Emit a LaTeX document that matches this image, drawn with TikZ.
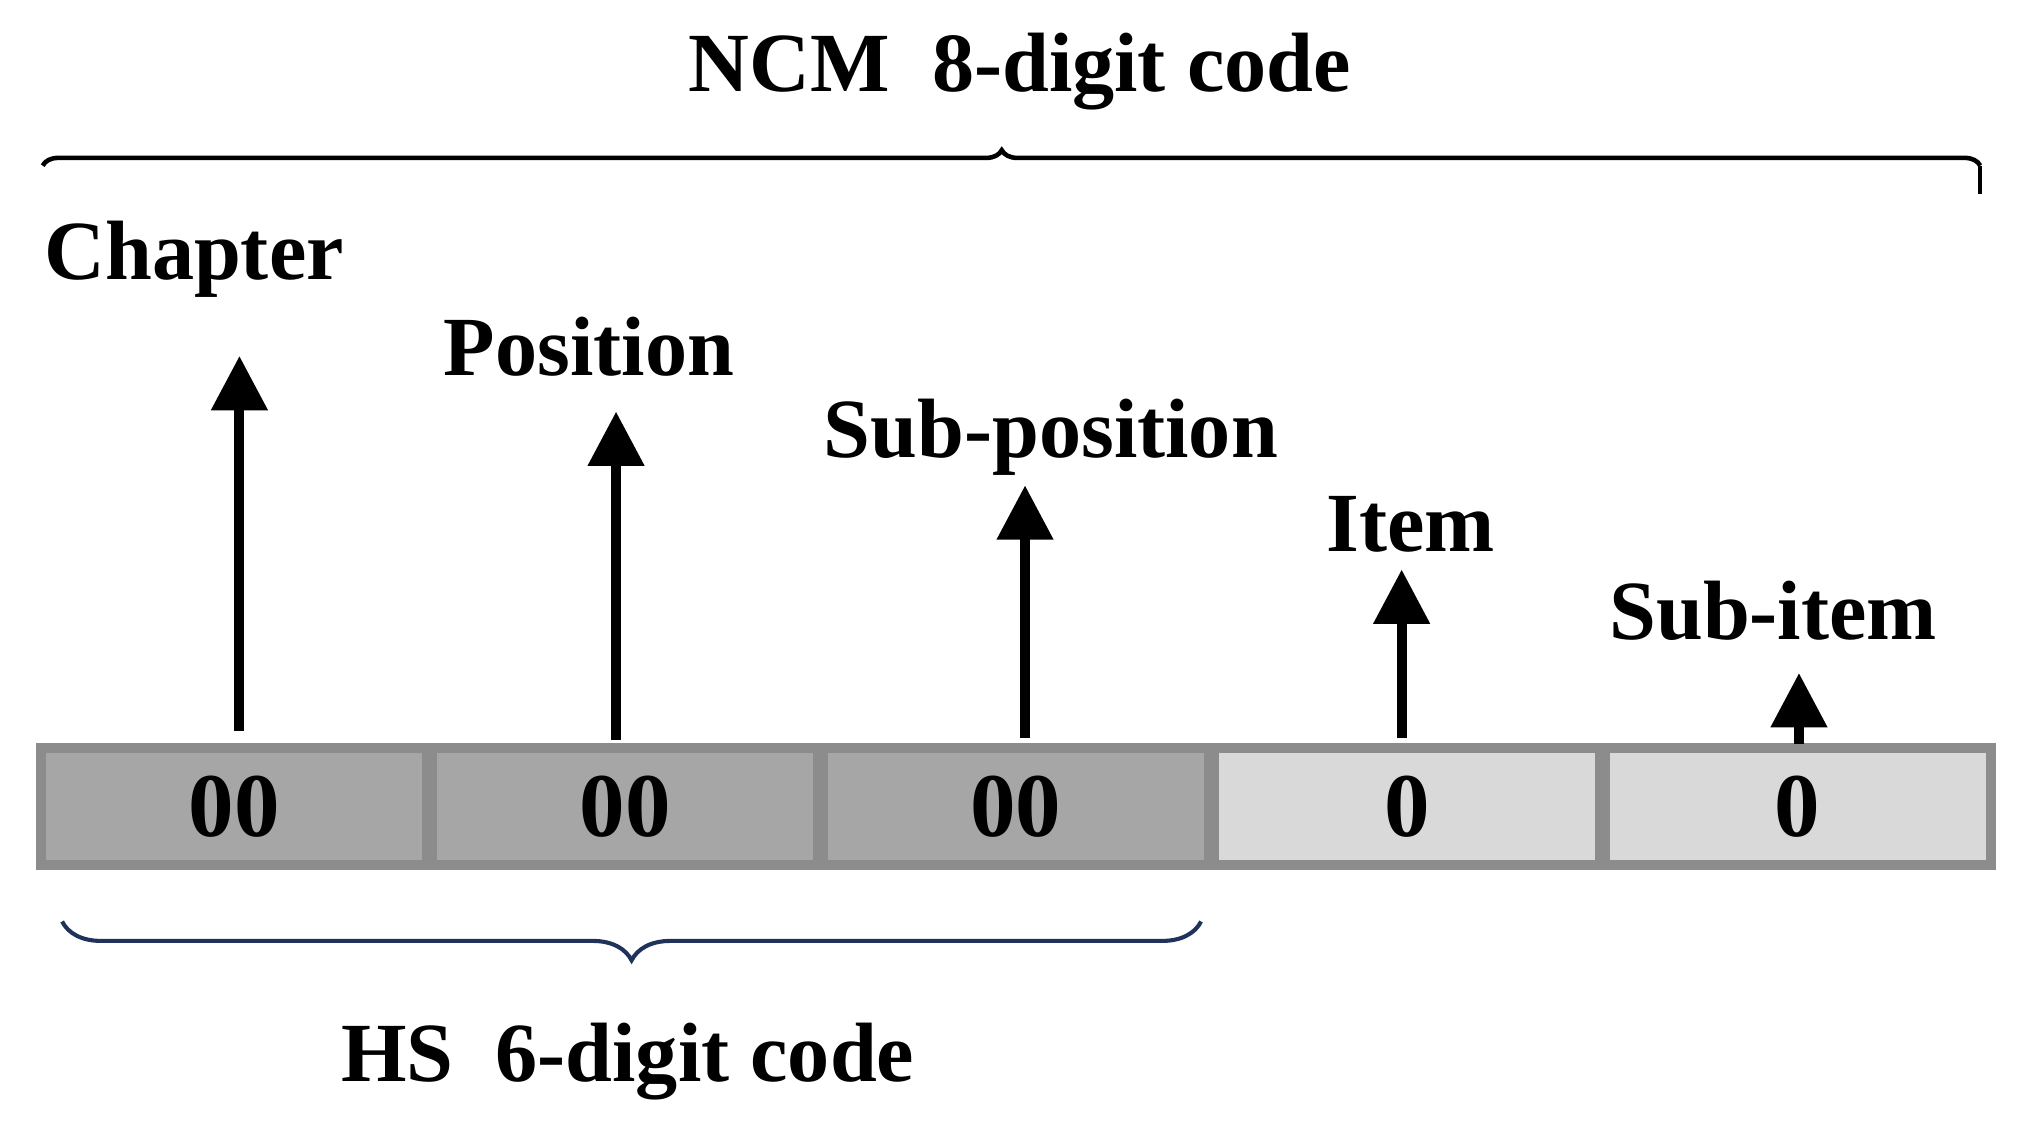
\documentclass[tikz,border=0pt]{standalone}
\usepackage{fontspec}
\setmainfont{Liberation Serif}
\usetikzlibrary{arrows.meta,decorations.pathreplacing}
\tikzset{%
  cell/.style  = {draw=gray!90, line width=2.2pt, minimum width=2.98cm,%
                  minimum height=0.9cm, inner sep=0pt, font=\bfseries\fontsize{20}{22}\selectfont},%
  dark/.style  = {cell, fill=gray!70},%
  light/.style = {cell, fill=gray!30},%
  lbl/.style   = {font=\bfseries\fontsize{18.5}{20}\selectfont, inner sep=0pt},%
  up/.style    = {-{Triangle[length=0.42cm,width=0.42cm]}, line width=2.2pt},%
  brc/.style   = {decorate, line width=1pt}%
}
\begin{document}
\begin{tikzpicture}[x=0.01cm,y=-0.01cm]
  \useasboundingbox (0,0) rectangle (1560,870);
  % code cells
  \node[dark]  (c1) at (181,623) {00};
  \node[dark]  (c2) at (483,623) {00};
  \node[dark]  (c3) at (785,623) {00};
  \node[light] (c4) at (1087,623) {0};
  \node[light] (c5) at (1389,623) {0};
  % labels
  \node[lbl] (chapter) at (150,200) {Chapter};
  \node[lbl] (pos)     at (455,268) {Position};
  \node[lbl] (subpos)  at (812,338) {Sub-position};
  \node[lbl] (item)    at (1090,405) {Item};
  \node[lbl] (subitem) at (1370,472) {Sub-item};
  \node[lbl] (ncm)     at (788,55) {NCM~~8-digit code};
  \node[lbl] (hs)      at (485,820) {HS~~6-digit code};
  % arrow tips
  \coordinate (t1) at (185,275);
  \coordinate (t2) at (476,318);
  \coordinate (t3) at (792,375);
  \coordinate (t4) at (1083,440);
  \coordinate (t5) at (1390,520);
  \draw[up] (185,565)  -- (t1);
  \draw[up] (476,572)  -- (t2);
  \draw[up] (792,570)  -- (t3);
  \draw[up] (1083,570) -- (t4);
  \draw[up] (1390,575) -- (t5);
  % braces
  \coordinate (b1) at (33,128);
  \coordinate (b2) at (1530,128);
  \draw[brc, decoration={brace, amplitude=0.12cm, aspect=0.495}] (b1) -- (b2);
  \draw[line width=1pt] (b2) -- ++(0,22);
  \coordinate (h1) at (48,712);
  \coordinate (h2) at (928,712);
  \draw[brc, line width=0.9pt, draw={rgb,255:red,30;green,50;blue,90}, decoration={brace, mirror, amplitude=0.3cm}] (h1) -- (h2);
\end{tikzpicture}
\end{document}
